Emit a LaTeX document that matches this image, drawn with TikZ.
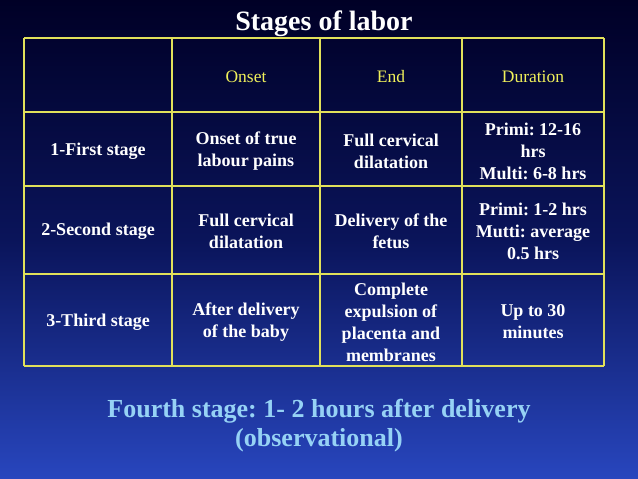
\documentclass[tikz,border=0pt]{standalone}
\usepackage{fontspec}
\setmainfont{Liberation Serif}
\frenchspacing
\begin{document}
\begin{tikzpicture}[x=1pt,y=-1pt,
  grid/.style={draw={rgb,255:red,225;green,225;blue,90}, line width=1.3pt},
  hd/.style={text={rgb,255:red,240;green,240;blue,90}, font=\fontsize{17.5}{20}\selectfont},
  cell/.style={text=white, align=center, font=\bfseries\fontsize{18}{22}\selectfont}]
\shade[top color=black!85!blue, bottom color={rgb,255:red,40;green,70;blue,190}, middle color={rgb,255:red,10;green,20;blue,90}] (0,0) rectangle (638,479);
\useasboundingbox (0,0) rectangle (638,479);
\node[text=white, font=\bfseries\fontsize{28}{30}\selectfont] (title) at (324,24) {Stages of labor};
\foreach \x in {24,172,320,462,604} \draw[grid] (\x,38) -- (\x,366);
\foreach \y in {38,112,186,274,366} \draw[grid] (24,\y) -- (604,\y);
\node[hd] (h1) at (246,77) {Onset};
\node[hd] (h2) at (391,77) {End};
\node[hd] (h3) at (533,77) {Duration};
\node[cell] (a1) at (98,151) {1-First stage};
\node[cell] (b1) at (246,151) {Onset of true\\labour pains};
\node[cell] (c1) at (391,151) {Full cervical\\dilatation};
\node[cell] (d1) at (533,151) {Primi: 12-16\\hrs\\Multi: 6-8 hrs};
\node[cell] (a2) at (98,231) {2-Second stage};
\node[cell] (b2) at (246,231) {Full cervical\\dilatation};
\node[cell] (c2) at (391,231) {Delivery of the\\fetus};
\node[cell] (d2) at (533,231) {Primi: 1-2 hrs\\Mutti: average\\0.5 hrs};
\node[cell] (a3) at (98,322) {3-Third stage};
\node[cell] (b3) at (246,322) {After delivery\\of the baby};
\node[cell] (c3) at (391,322) {Complete\\expulsion of\\placenta and\\membranes};
\node[cell] (d3) at (533,322) {Up to 30\\minutes};
\node[text={rgb,255:red,150;green,210;blue,245}, align=center, font=\bfseries\fontsize{26}{29}\selectfont] (foot) at (319,426) {Fourth stage: 1- 2 hours after delivery\\(observational)};
\end{tikzpicture}
\end{document}
